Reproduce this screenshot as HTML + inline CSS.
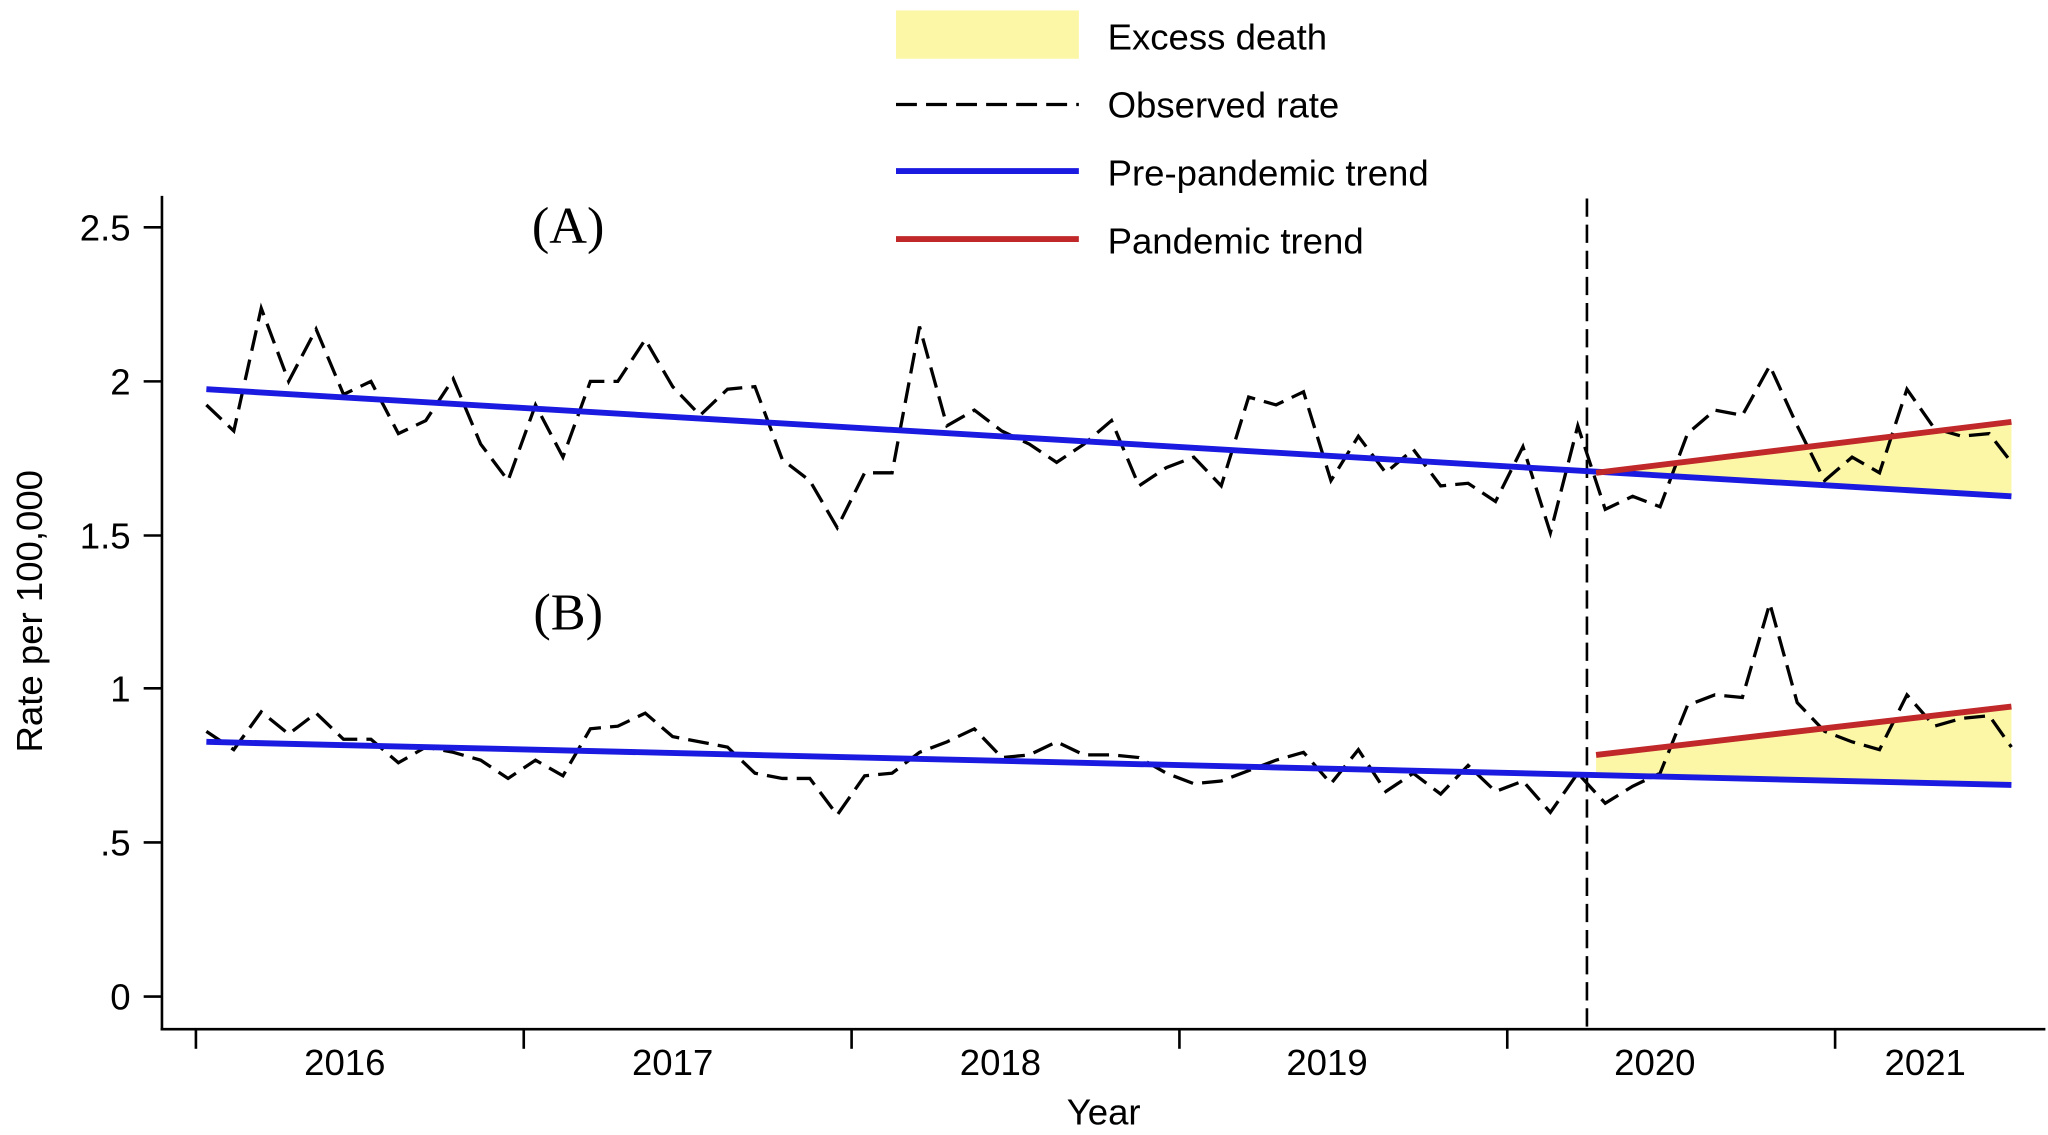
<!DOCTYPE html>
<html><head><style>html,body{margin:0;padding:0;background:#fff}svg{display:block}</style></head>
<body>
<svg width="2048" height="1135" viewBox="0 0 1568 869" preserveAspectRatio="none" xmlns="http://www.w3.org/2000/svg" font-family="Liberation Sans, sans-serif">
<rect width="1568" height="869" fill="#fff"/>
<polygon points="1222,362 1540,323 1540,380 1222,362" fill="#fbf7a6"/>
<polygon points="1222,578 1540,541 1540,601 1222,593" fill="#fbf7a6"/>
<g stroke="#000" stroke-width="2" fill="none">
<line x1="124" y1="150" x2="124" y2="789"/>
<line x1="123" y1="788" x2="1566" y2="788"/>
<line x1="110" y1="174" x2="124" y2="174"/>
<line x1="110" y1="292" x2="124" y2="292"/>
<line x1="110" y1="410" x2="124" y2="410"/>
<line x1="110" y1="527" x2="124" y2="527"/>
<line x1="110" y1="645" x2="124" y2="645"/>
<line x1="110" y1="763" x2="124" y2="763"/>
<line x1="150" y1="788" x2="150" y2="803"/>
<line x1="401" y1="788" x2="401" y2="803"/>
<line x1="652" y1="788" x2="652" y2="803"/>
<line x1="903" y1="788" x2="903" y2="803"/>
<line x1="1154" y1="788" x2="1154" y2="803"/>
<line x1="1405" y1="788" x2="1405" y2="803"/>
<line x1="1215" y1="152" x2="1215" y2="788" stroke-dasharray="14,6"/>
</g>
<g font-size="28" text-anchor="end" fill="#000">
<text x="100" y="184">2.5</text><text x="100" y="302">2</text><text x="100" y="420">1.5</text>
<text x="100" y="537">1</text><text x="100" y="655">.5</text><text x="100" y="773">0</text>
</g>
<g font-size="28" text-anchor="middle" fill="#000">
<text x="264" y="823">2016</text><text x="515" y="823">2017</text><text x="766" y="823">2018</text>
<text x="1016" y="823">2019</text><text x="1267" y="823">2020</text><text x="1474" y="823">2021</text>
<text x="845" y="861">Year</text>
<text transform="translate(32,468) rotate(-90)">Rate per 100,000</text>
</g>
<g font-family="Liberation Serif, serif" font-size="40" text-anchor="middle">
<text x="435" y="186">(A)</text><text x="435" y="482">(B)</text>
</g>
<g fill="none" stroke="#000" stroke-width="2.5" stroke-dasharray="16,7">
<polyline points="158,310 179,330 200,236 221,292 242,252 263,302 284,292 305,332 326,322 347,290 368,340 389,368 410,310 431,350 452,292 473,292 494,260 515,296 536,318 557,298 578,296 599,352 620,368 641,404 662,362 683,362 704,250 725,326 746,314 767,330 788,340 809,354 830,340 851,322 872,372 893,358 914,350 935,372 956,304 977,310 998,300 1019,368 1040,334 1061,362 1082,344 1103,372 1124,370 1145,384 1166,342 1187,408 1208,326 1229,390 1250,380 1271,388 1292,332 1313,314 1334,318 1355,280 1376,326 1397,368 1418,350 1439,362 1460,298 1481,328 1502,334 1523,332 1540,354"/>
<polyline points="158,560 179,574 200,545 221,562 242,546 263,566 284,566 305,584 326,572 347,576 368,582 389,596 410,582 431,594 452,558 473,556 494,546 515,564 536,568 557,572 578,592 599,596 620,596 641,624 662,594 683,592 704,576 725,568 746,558 767,580 788,578 809,568 830,578 851,578 872,580 893,592 914,600 935,598 956,590 977,582 998,576 1019,600 1040,574 1061,606 1082,592 1103,608 1124,586 1145,606 1166,598 1187,622 1208,592 1229,615 1250,602 1271,592 1292,540 1313,532 1334,534 1355,462 1376,538 1397,560 1418,568 1439,574 1460,532 1481,556 1502,550 1523,548 1540,572"/>
</g>
<g stroke-width="4.5" fill="none">
<line x1="158" y1="298" x2="1540" y2="380" stroke="#1a1ae0"/>
<line x1="158" y1="568" x2="1540" y2="601" stroke="#1a1ae0"/>
<line x1="1222" y1="362" x2="1540" y2="323" stroke="#c0282a"/>
<line x1="1222" y1="578" x2="1540" y2="541" stroke="#c0282a"/>
</g>
<rect x="686" y="8" width="140" height="37" fill="#fbf7a6"/>
<line x1="686" y1="80" x2="826" y2="80" stroke="#000" stroke-width="2.5" stroke-dasharray="16,7"/>
<line x1="686" y1="131" x2="826" y2="131" stroke="#1a1ae0" stroke-width="4.5"/>
<line x1="686" y1="183" x2="826" y2="183" stroke="#c0282a" stroke-width="4.5"/>
<g font-size="28" fill="#000">
<text x="848" y="38">Excess death</text><text x="848" y="90">Observed rate</text>
<text x="848" y="142">Pre-pandemic trend</text><text x="848" y="194">Pandemic trend</text>
</g>
</svg>
</body></html>
